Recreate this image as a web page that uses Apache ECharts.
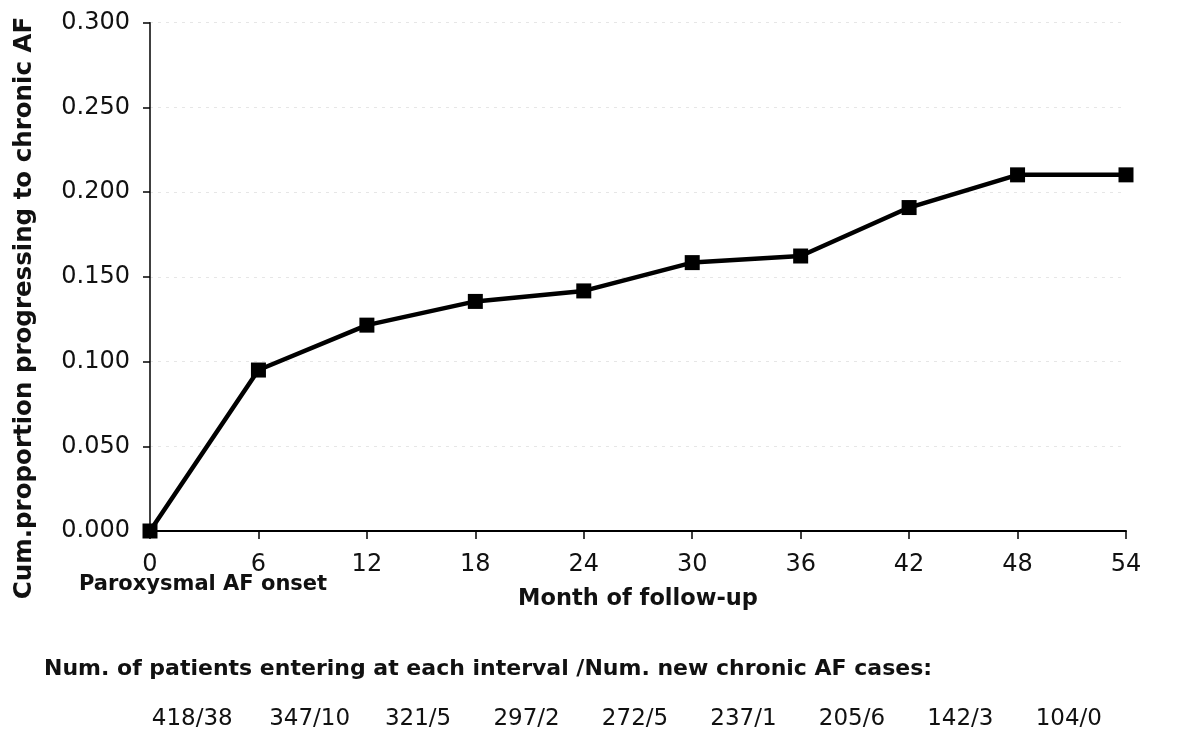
<!DOCTYPE html>
<html>
<head>
<meta charset="utf-8">
<script src="https://cdn.jsdelivr.net/npm/echarts@6/dist/echarts.min.js"></script>
<style>
html,body{margin:0;padding:0;background:#fff;}
#chart{width:1200px;height:743px;}
</style>
</head>
<body>
<div id="chart"></div>
<script>
const months = [0, 6, 12, 18, 24, 30, 36, 42, 48, 54];
const cumProportion = [0.000, 0.095, 0.1215, 0.1355, 0.1417, 0.1584, 0.1623, 0.1909, 0.2102, 0.2102];
const intervalLabels = ['418/38', '347/10', '321/5', '297/2', '272/5', '237/1', '205/6', '142/3', '104/0'];
const yTicks = { min: 0, max: 0.3, interval: 0.05 };
const xTicks = { min: 0, max: 54, interval: 6 };

const FONT = 'DejaVu Sans';
const chart = echarts.init(document.getElementById('chart'), null, { renderer: 'canvas' });

chart.setOption({
  animation: false,
  backgroundColor: '#ffffff',
  textStyle: { fontFamily: FONT, color: '#111' },
  title: [
    {
      text: 'Paroxysmal AF onset',
      left: 74, top: 569,
      textStyle: { fontFamily: FONT, fontSize: 21, fontWeight: 'bold', color: '#111' }
    },
    {
      text: 'Num. of patients entering at each interval /Num. new chronic AF cases:',
      left: 39, top: 653,
      textStyle: { fontFamily: FONT, fontSize: 22, fontWeight: 'bold', color: '#111' }
    }
  ],
  graphic: [
    {
      type: 'text',
      x: 12, y: 308,
      rotation: Math.PI / 2,
      style: {
        text: 'Cum.proportion progressing to chronic AF',
        font: 'bold 24.5px "DejaVu Sans"',
        fill: '#111',
        align: 'center',
        verticalAlign: 'top'
      }
    }
  ],
  grid: [
    { left: 150, right: 74, top: 22.7, bottom: 212, containLabel: false },
    { left: 147, right: 77, top: 699, height: 1, containLabel: false }
  ],
  xAxis: [
    {
      type: 'value',
      gridIndex: 0,
      min: xTicks.min, max: xTicks.max, interval: xTicks.interval,
      name: 'Month of follow-up',
      nameLocation: 'middle',
      nameGap: 57,
      nameTextStyle: { fontFamily: FONT, fontSize: 22.5, fontWeight: 'bold', color: '#111' },
      axisLine: { show: true, onZero: false, lineStyle: { color: '#000', width: 2 } },
      axisTick: { show: true, inside: false, length: 8, lineStyle: { color: '#000', width: 1.5 } },
      axisLabel: { fontFamily: FONT, fontSize: 24, color: '#111', margin: 22 },
      splitLine: { show: false }
    },
    {
      type: 'category',
      gridIndex: 1,
      data: intervalLabels.map((t, i) => i === 0 ? { value: t, textStyle: { padding: [0, 18, 0, 0] } } : t),
      boundaryGap: true,
      axisLine: { show: false },
      axisTick: { show: false },
      axisLabel: { fontFamily: FONT, fontSize: 23, color: '#111', margin: 8, interval: 0 },
      splitLine: { show: false }
    }
  ],
  yAxis: [
    {
      type: 'value',
      gridIndex: 0,
      min: yTicks.min, max: yTicks.max, interval: yTicks.interval,
      axisLine: { show: true, lineStyle: { color: '#000', width: 1.5 } },
      axisTick: { show: true, inside: false, length: 7, lineStyle: { color: '#000', width: 1.5 } },
      axisLabel: {
        fontFamily: FONT, fontSize: 24, color: '#111', margin: 20,
        formatter: v => v.toFixed(3)
      },
      splitLine: { show: true, lineStyle: { color: '#e6e6e6', width: 1, type: [3, 5] } }
    },
    {
      type: 'value',
      gridIndex: 1,
      show: false
    }
  ],
  series: [
    {
      type: 'line',
      xAxisIndex: 0,
      yAxisIndex: 0,
      data: months.map((m, i) => [m, cumProportion[i]]),
      symbol: 'rect',
      symbolSize: 15,
      lineStyle: { color: '#000', width: 4.5 },
      itemStyle: { color: '#000' },
      clip: false,
      z: 5
    }
  ]
});
</script>
</body>
</html>
